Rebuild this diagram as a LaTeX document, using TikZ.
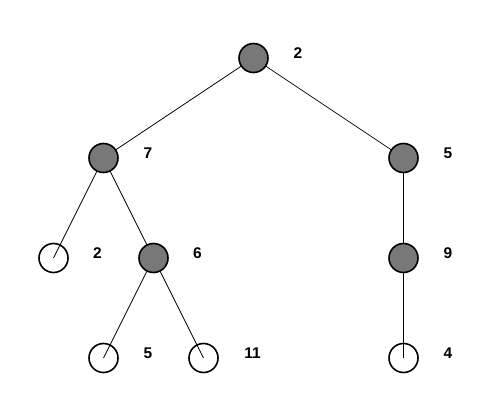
\documentclass[tikz,border=0pt]{standalone}
\usepackage{fontspec}
\setmainfont{Liberation Sans}
\begin{document}
\begin{tikzpicture}[x=1pt,y=-1pt,
  vtx/.style={circle,draw=black,line width=1.6pt,minimum size=29pt,inner sep=0pt},
  full/.style={vtx,fill=black!53},
  empty/.style={vtx},
  lbl/.style={font=\bfseries\fontsize{15.5}{15.5}\selectfont,text=black,inner sep=0pt},
  edge/.style={line width=0.7pt}]
\useasboundingbox (0,0) rectangle (498,406);
% vertex coordinates
\coordinate (cr) at (253.5,58);
\coordinate (ca) at (103.5,158);
\coordinate (cb) at (403.5,158);
\coordinate (cc) at (53.5,258);
\coordinate (cd) at (153.5,258);
\coordinate (ce) at (403.5,258);
\coordinate (cf) at (103.5,358);
\coordinate (cg) at (203.5,358);
\coordinate (ch) at (403.5,358);
% edges (centre to centre)
\draw[edge] (cr) -- (ca);
\draw[edge] (cr) -- (cb);
\draw[edge] (ca) -- (cc);
\draw[edge] (ca) -- (cd);
\draw[edge] (cb) -- (ce);
\draw[edge] (cd) -- (cf);
\draw[edge] (cd) -- (cg);
\draw[edge] (ce) -- (ch);
% vertices
\node[full] (r) at (cr) {};
\node[full] (a) at (ca) {};
\node[full] (b) at (cb) {};
\node[empty] (c) at (cc) {};
\node[full] (d) at (cd) {};
\node[full] (e) at (ce) {};
\node[empty] (f) at (cf) {};
\node[empty] (g) at (cg) {};
\node[empty] (h) at (ch) {};
% labels
\node[lbl] (lr) at (298,53.5) {2};
\node[lbl] (la) at (148,153.5) {7};
\node[lbl] (lb) at (448,153.5) {5};
\node[lbl] (lc) at (97.5,253.5) {2};
\node[lbl] (ld) at (197.5,253.5) {6};
\node[lbl] (le) at (448,253.5) {9};
\node[lbl] (lf) at (148,353.5) {5};
\node[lbl] (lg) at (252.5,353.5) {11};
\node[lbl] (lh) at (448,353.5) {4};
\end{tikzpicture}
\end{document}
